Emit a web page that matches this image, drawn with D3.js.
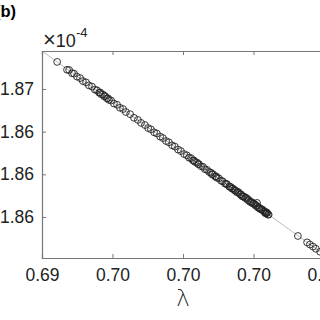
<!DOCTYPE html>
<html lang="en">
<head>
  <meta charset="UTF-8" />
  <script src="https://d3js.org/d3.v7.min.js"></script>
  <title>lambda scatter</title>
  <style>
    body { margin: 0; background: #fff; }
    text { font-family: "Liberation Sans", Arial, sans-serif; }
  </style>
</head>
<body>
<script type="text/javascript">

// data (y in units of 1e-4)
var lambdaVals = [0.69443, 0.69471, 0.69477, 0.69485, 0.69491, 0.69499, 0.69508, 0.69516, 0.69525, 0.69533,
  0.69542, 0.69550, 0.69556, 0.69562, 0.69565, 0.69567, 0.69573, 0.69576, 0.69579, 0.69584, 0.69587, 0.69590,
  0.69596, 0.69604, 0.69613, 0.69621, 0.69630, 0.69638, 0.69650, 0.69661, 0.69672, 0.69681, 0.69692, 0.69701,
  0.69709, 0.69718, 0.69726, 0.69735, 0.69743, 0.69752, 0.69760, 0.69769, 0.69777, 0.69786, 0.69794, 0.69803,
  0.69811, 0.69817, 0.69823, 0.69828, 0.69831, 0.69834, 0.69840, 0.69843, 0.69845, 0.69851, 0.69857, 0.69862,
  0.69868, 0.69874, 0.69879, 0.69882, 0.69885, 0.69891, 0.69894, 0.69896, 0.69902, 0.69908, 0.69913, 0.69919,
  0.69925, 0.69931, 0.69936, 0.69939, 0.69942, 0.69948, 0.69950, 0.69953, 0.69959, 0.69962, 0.69965, 0.69970,
  0.69973, 0.69976, 0.69982, 0.69984, 0.69987, 0.69993, 0.69996, 0.69999, 0.70004, 0.70007, 0.70010, 0.70016,
  0.70018, 0.70021, 0.70027, 0.70030, 0.70033, 0.70035, 0.70038, 0.70041, 0.70010, 0.70126, 0.70152, 0.70160,
  0.70169, 0.70177, 0.70189,
  0.69922, 0.69933, 0.69945, 0.69956, 0.69967, 0.69979, 0.69990, 0.70001, 0.70013, 0.70024, 0.70035, 0.70043,
  0.70038, 0.70033];
var sigmaVals = [1.86727, 1.86690, 1.86689, 1.86674, 1.86672, 1.86658, 1.86651, 1.86637, 1.86631, 1.86617,
  1.86611, 1.86597, 1.86594, 1.86583, 1.86584, 1.86576, 1.86574, 1.86566, 1.86567, 1.86556, 1.86557, 1.86549,
  1.86546, 1.86532, 1.86526, 1.86512, 1.86506, 1.86492, 1.86482, 1.86465, 1.86455, 1.86441, 1.86431, 1.86417,
  1.86411, 1.86397, 1.86391, 1.86377, 1.86370, 1.86356, 1.86350, 1.86336, 1.86330, 1.86316, 1.86309, 1.86295,
  1.86289, 1.86278, 1.86276, 1.86265, 1.86265, 1.86258, 1.86255, 1.86248, 1.86248, 1.86238, 1.86235, 1.86224,
  1.86221, 1.86211, 1.86208, 1.86200, 1.86201, 1.86190, 1.86191, 1.86184, 1.86181, 1.86170, 1.86167, 1.86157,
  1.86154, 1.86143, 1.86140, 1.86133, 1.86133, 1.86123, 1.86123, 1.86116, 1.86113, 1.86106, 1.86106, 1.86096,
  1.86096, 1.86089, 1.86086, 1.86079, 1.86079, 1.86069, 1.86069, 1.86062, 1.86059, 1.86052, 1.86052, 1.86041,
  1.86042, 1.86035, 1.86032, 1.86025, 1.86025, 1.86018, 1.86018, 1.86011, 1.86066, 1.85911, 1.85881, 1.85871,
  1.85861, 1.85851, 1.85837,
  1.86155, 1.86142, 1.86128, 1.86118, 1.86098, 1.86090, 1.86071, 1.86063, 1.86044, 1.86036, 1.86017, 1.86011,
  1.86021, 1.86020];

var fitX = [0.694, 0.702];
var fitY = [1.86778, 1.85824];

var xTicks = [0.694, 0.696, 0.698, 0.700, 0.702];
var xTickLabels = ["0.69", "0.70", "0.70", "0.70", "0.70"];
var yTicks = [1.866, 1.864, 1.862, 1.860];
var yTickLabels = ["1.87", "1.86", "1.86", "1.86"];

var width = 320, height = 320;
var mLeft = 42, mRight = 324, mTop = 51, mBottom = 258;
var axisColor = "#777";

var svg = d3.select("body").append("svg").attr("width", width).attr("height", height);

var x = d3.scaleLinear().domain([0.694, 0.702]).range([mLeft, mRight]);
var y = d3.scaleLinear().domain([1.858078, 1.867781]).range([mBottom, mTop]);

svg.append("clipPath").attr("id", "plot")
  .append("rect").attr("x", mLeft).attr("y", mTop).attr("width", mRight - mLeft).attr("height", mBottom - mTop);

// fitted line
var line = d3.line().x(function(d){ return x(d[0]); }).y(function(d){ return y(d[1]); });
svg.append("path").datum(d3.zip(fitX, fitY))
  .attr("d", line).attr("clip-path", "url(#plot)")
  .attr("fill", "none").attr("stroke", "#bdbdbd").attr("stroke-width", 1);

// points
svg.append("g").attr("clip-path", "url(#plot)")
  .selectAll("circle").data(d3.zip(lambdaVals, sigmaVals)).enter()
  .append("circle")
  .attr("cx", function(d){ return x(d[0]); })
  .attr("cy", function(d){ return y(d[1]); })
  .attr("r", 3.4)
  .attr("fill", "none").attr("stroke", "#222").attr("stroke-width", 0.9);

// axes
var xAxis = d3.axisBottom(x).tickValues(xTicks).tickSize(-4).tickPadding(11)
  .tickFormat(function(d, i){ return xTickLabels[i]; });
var xTop = d3.axisTop(x).tickValues(xTicks).tickSize(-4).tickFormat("");
var yAxis = d3.axisLeft(y).tickValues(yTicks).tickSize(-4).tickPadding(8)
  .tickFormat(function(d, i){ return yTickLabels[i]; });

var gx = svg.append("g").attr("transform", "translate(0," + mBottom + ")").call(xAxis);
var gt = svg.append("g").attr("transform", "translate(0," + mTop + ")").call(xTop);
var gy = svg.append("g").attr("transform", "translate(" + mLeft + ",0)").call(yAxis);

[gx, gt, gy].forEach(function(g){
  g.select(".domain").attr("stroke", axisColor).attr("stroke-width", 1.2);
  g.selectAll(".tick line").attr("stroke", axisColor);
  g.selectAll(".tick text").attr("fill", "#222").style("font-size", "17.5px")
    .style("font-family", "'Liberation Sans', Arial, sans-serif");
});

// labels
svg.append("text").attr("x", (mLeft + mRight) / 2).attr("y", 306)
  .attr("text-anchor", "middle").style("font-size", "23px").attr("fill", "#222")
  .style("font-family", "'DejaVu Sans', sans-serif").style("font-weight", "300").text("λ");

var mult = svg.append("text").attr("x", 43).attr("y", 47).attr("fill", "#222").style("font-size", "18px");
mult.append("tspan").style("font-size", "22px").style("font-weight", "300").text("×");
mult.append("tspan").text("10");
mult.append("tspan").attr("dy", -10).style("font-size", "13px").text("-4");

svg.append("text").attr("x", -5).attr("y", 16.5).style("font-size", "16.5px")
  .style("font-weight", "bold").attr("fill", "#000").text("(b)");

</script>
</body>
</html>
